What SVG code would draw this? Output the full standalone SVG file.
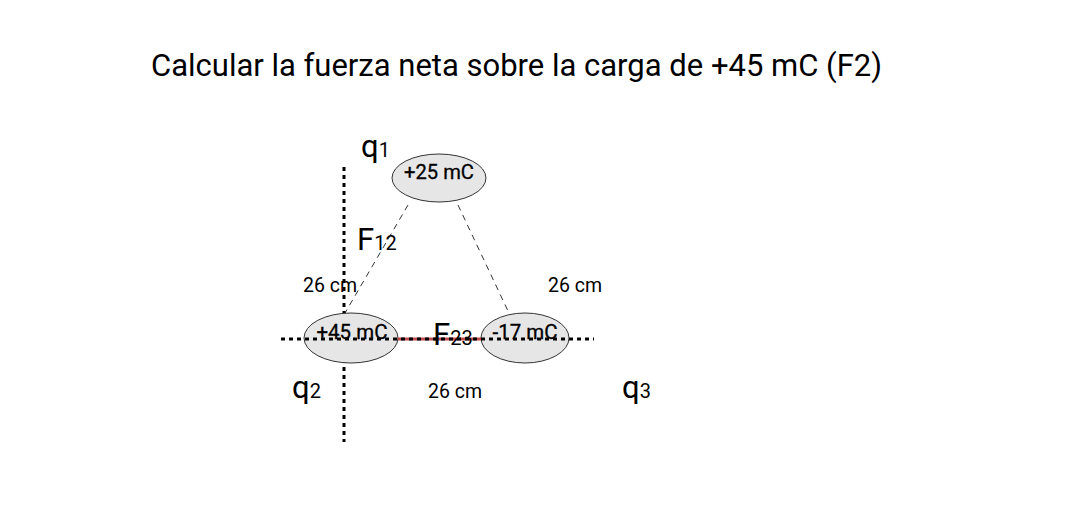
<svg xmlns="http://www.w3.org/2000/svg" width="1080" height="523" viewBox="0 0 1080 523">
<style>
text{font-family:Roboto,"Liberation Sans",sans-serif;fill:#000}
.title{font-size:31px}
.chg{font-size:21px;text-anchor:middle;dominant-baseline:central;stroke:#000;stroke-width:0.3}
.dist{font-size:19.5px}
.big{font-size:31px}
.sub{font-size:20px}
.node{fill:#e6e6e6;stroke:#333;stroke-width:1}
.axis{stroke:#000;stroke-width:3;stroke-dasharray:4 4;fill:none}
.dash{stroke:#000;stroke-width:0.8;stroke-dasharray:6 5;fill:none}
</style>
<rect width="1080" height="523" fill="#fff"/>
<text class="title" x="151" y="76" textLength="731" lengthAdjust="spacingAndGlyphs">Calcular la fuerza neta sobre la carga de +45 mC (F2)</text>
<g id="connectors">
<line class="axis" x1="344" y1="167" x2="344" y2="442"/>
<line class="dash" x1="408" y1="205" x2="345" y2="313"/>
<line class="dash" x1="458" y1="205" x2="508" y2="311"/>
</g>
<g id="q1">
<ellipse class="node" cx="439" cy="178" rx="47" ry="24"/>
<text class="chg" x="439" y="172" textLength="70" lengthAdjust="spacingAndGlyphs">+25 mC</text>
<text class="big" x="361" y="157">q<tspan class="sub">1</tspan></text>
</g>
<g id="q2">
<ellipse class="node" cx="351" cy="338" rx="47" ry="25"/>
<text class="chg" x="352" y="332" textLength="71" lengthAdjust="spacingAndGlyphs">+45 mC</text>
<text class="big" x="292" y="398">q<tspan class="sub">2</tspan></text>
</g>
<g id="q3">
<ellipse class="node" cx="525" cy="338" rx="44" ry="25"/>
<text class="chg" x="525" y="332" textLength="65" lengthAdjust="spacingAndGlyphs">-17 mC</text>
<text class="big" x="622" y="398">q<tspan class="sub">3</tspan></text>
</g>
<g id="forces">
<line x1="398" y1="339" x2="481" y2="339" stroke="#b22222" stroke-opacity="0.8" stroke-width="3"/>
<line class="axis" x1="281" y1="339" x2="594" y2="339"/>
<text class="big" x="357" y="250">F<tspan class="sub">12</tspan></text>
<text class="big" x="433" y="345">F<tspan class="sub">23</tspan></text>
</g>
<g id="labels">
<text class="dist" x="303" y="292">26 cm</text>
<text class="dist" x="548" y="292">26 cm</text>
<text class="dist" x="428" y="398">26 cm</text>
</g>
</svg>
